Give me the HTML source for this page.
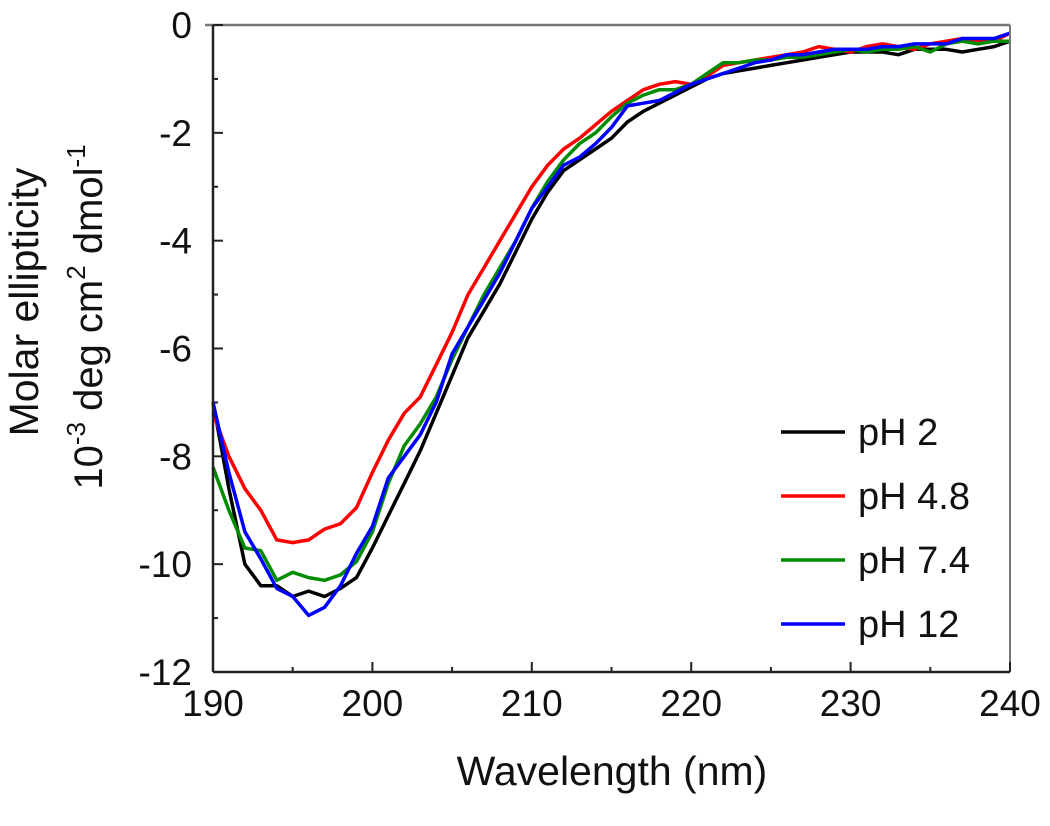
<!DOCTYPE html>
<html><head><meta charset="utf-8"><style>
body{margin:0;background:#fff;}
svg{display:block;font-family:"Liberation Sans",Arial,sans-serif;}
</style></head><body>
<svg id="chart" width="1050" height="826"></svg>
<script>
const wavelengths=[];for(let w=190;w<=240;w++)wavelengths.push(w);
const seriesNames=["pH 2","pH 4.8","pH 7.4","pH 12"];
const seriesColors=["#000000","#ff0000","#008c00","#0000ff"];
const ph2=[-7.0,-8.6,-10.0,-10.4,-10.4,-10.6,-10.5,-10.6,-10.45,-10.25,-9.7,-9.1,-8.5,-7.9,-7.2,-6.5,-5.8,-5.3,-4.8,-4.2,-3.6,-3.1,-2.7,-2.5,-2.3,-2.1,-1.8,-1.6,-1.45,-1.3,-1.15,-1.0,-0.9,-0.85,-0.8,-0.75,-0.7,-0.65,-0.6,-0.55,-0.5,-0.5,-0.5,-0.55,-0.45,-0.45,-0.45,-0.5,-0.45,-0.4,-0.3];
const ph48=[-7.2,-8.0,-8.6,-9.0,-9.55,-9.6,-9.55,-9.35,-9.25,-8.95,-8.3,-7.7,-7.2,-6.9,-6.3,-5.7,-5.0,-4.5,-4.0,-3.5,-3.0,-2.6,-2.3,-2.1,-1.85,-1.6,-1.4,-1.2,-1.1,-1.05,-1.1,-0.95,-0.75,-0.7,-0.65,-0.6,-0.55,-0.5,-0.4,-0.45,-0.5,-0.4,-0.35,-0.4,-0.45,-0.35,-0.3,-0.25,-0.3,-0.3,-0.15];
const ph74=[-8.2,-9.0,-9.7,-9.75,-10.3,-10.15,-10.25,-10.3,-10.2,-9.95,-9.4,-8.5,-7.8,-7.4,-6.9,-6.2,-5.6,-5.0,-4.5,-4.0,-3.4,-2.9,-2.5,-2.2,-2.0,-1.7,-1.45,-1.3,-1.2,-1.2,-1.1,-0.9,-0.7,-0.7,-0.65,-0.65,-0.6,-0.6,-0.55,-0.5,-0.45,-0.5,-0.45,-0.45,-0.4,-0.5,-0.35,-0.3,-0.35,-0.3,-0.3];
const ph12=[-7.0,-8.3,-9.4,-9.9,-10.45,-10.6,-10.95,-10.8,-10.4,-9.8,-9.3,-8.4,-8.0,-7.6,-7.0,-6.1,-5.6,-5.1,-4.6,-4.0,-3.4,-3.0,-2.6,-2.45,-2.2,-1.9,-1.5,-1.45,-1.4,-1.25,-1.1,-1.0,-0.9,-0.8,-0.7,-0.65,-0.55,-0.55,-0.5,-0.45,-0.45,-0.45,-0.4,-0.4,-0.35,-0.35,-0.35,-0.25,-0.25,-0.25,-0.15];
const xTicks=[190,200,210,220,230,240];
const yTicks=[0,-2,-4,-6,-8,-10,-12];

const svg=document.getElementById('chart');
const NS='http://www.w3.org/2000/svg';
const X0=213,X1=1010,Y0=25,Y1=672;
const xs=v=>X0+(v-190)/50*(X1-X0);
const ys=v=>Y0+(0-v)/12*(Y1-Y0);
function mk(tag,attrs,parent){const e=document.createElementNS(NS,tag);for(const k in attrs)e.setAttribute(k,attrs[k]);(parent||svg).appendChild(e);return e;}

const allSeries=[ph2,ph48,ph74,ph12];
[0,1,2,3].forEach(i=>{
  const d=allSeries[i].map((v,j)=>(j?'L':'M')+xs(wavelengths[j]).toFixed(1)+','+ys(v).toFixed(1)).join('');
  const p=mk('path',{d:d,fill:'none',stroke:seriesColors[i],'stroke-width':3.5,'stroke-linejoin':'round'});
  
  
});

const frame=mk('g',{});


mk('line',{x1:205,y1:Y0,x2:X1,y2:Y0,stroke:'#777','stroke-width':2.5},frame);
mk('line',{x1:X1,y1:Y0,x2:X1,y2:Y1,stroke:'#777','stroke-width':2},frame);
mk('line',{x1:X0,y1:Y0,x2:X0,y2:Y1,stroke:'#222','stroke-width':2.5},frame);
mk('line',{x1:X0,y1:Y1,x2:X1,y2:Y1,stroke:'#222','stroke-width':2.5},frame);

const xAxis=mk('g',{});


for(let w=190;w<=240;w+=5){const x=xs(w);const major=w%10===0;mk('line',{x1:x,y1:Y1,x2:x,y2:Y1-(major?10:5),stroke:'#222','stroke-width':2},xAxis);}
xTicks.forEach(t=>{const tx=mk('text',{x:xs(t),y:716,'font-size':37,'text-anchor':'middle',fill:'#111'},xAxis);tx.textContent=t;
  
  });
const yAxis=mk('g',{});


for(let v=0;v>=-12;v--){const y=ys(v);const major=v%2===0;mk('line',{x1:X0,y1:y,x2:X0+(major?10:5),y2:y,stroke:'#222','stroke-width':2},yAxis);}
yTicks.forEach(t=>{const ty=mk('text',{x:192,y:ys(t)+13,'font-size':37,'text-anchor':'end',fill:'#111'},yAxis);ty.textContent=t;
  
  });

const xt=mk('text',{x:612,y:785,'font-size':41,'text-anchor':'middle',fill:'#111'});
xt.textContent='Wavelength (nm)';


const yt=mk('g',{transform:'rotate(-90)'});


const t1=mk('text',{x:-302,y:38,'font-size':41,'text-anchor':'middle',fill:'#111'},yt);t1.textContent='Molar ellipticity';
const t2=mk('text',{x:-317,y:102,'font-size':40,'text-anchor':'middle',fill:'#111'},yt);
t2.innerHTML='10<tspan dy="-17" font-size="26">-3</tspan><tspan dy="17"> deg cm</tspan><tspan dy="-17" font-size="26">2</tspan><tspan dy="17"> dmol</tspan><tspan dy="-17" font-size="26">-1</tspan>';

const lg=mk('g',{});


seriesNames.forEach((n,i)=>{const y=432+i*64;
  const e=mk('g',{},lg);
  
  
  mk('line',{x1:781,y1:y,x2:845,y2:y,stroke:seriesColors[i],'stroke-width':3.5},e);
  const t=mk('text',{x:858,y:y+13,'font-size':38,fill:'#111'},e);t.textContent=n;});
</script>
</body></html>
